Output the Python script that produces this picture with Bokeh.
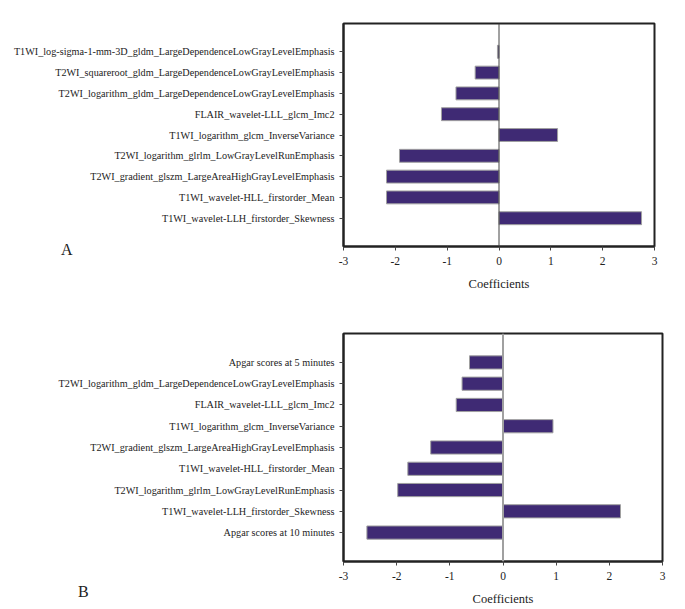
from bokeh.plotting import figure
from bokeh.models import Range1d, FactorRange, FixedTicker, Span, Div
from bokeh.layouts import column
from bokeh.embed import file_html
from bokeh.resources import INLINE

# Panel A: features listed top to bottom with their coefficients
features_a = [
    "T1WI_log-sigma-1-mm-3D_gldm_LargeDependenceLowGrayLevelEmphasis",
    "T2WI_squareroot_gldm_LargeDependenceLowGrayLevelEmphasis",
    "T2WI_logarithm_gldm_LargeDependenceLowGrayLevelEmphasis",
    "FLAIR_wavelet-LLL_glcm_Imc2",
    "T1WI_logarithm_glcm_InverseVariance",
    "T2WI_logarithm_glrlm_LowGrayLevelRunEmphasis",
    "T2WI_gradient_glszm_LargeAreaHighGrayLevelEmphasis",
    "T1WI_wavelet-HLL_firstorder_Mean",
    "T1WI_wavelet-LLH_firstorder_Skewness",
]
coef_a = [-0.03, -0.46, -0.83, -1.11, 1.13, -1.92, -2.17, -2.17, 2.75]

# Panel B: features listed top to bottom with their coefficients
features_b = [
    "Apgar scores at 5 minutes",
    "T2WI_logarithm_gldm_LargeDependenceLowGrayLevelEmphasis",
    "FLAIR_wavelet-LLL_glcm_Imc2",
    "T1WI_logarithm_glcm_InverseVariance",
    "T2WI_gradient_glszm_LargeAreaHighGrayLevelEmphasis",
    "T1WI_wavelet-HLL_firstorder_Mean",
    "T2WI_logarithm_glrlm_LowGrayLevelRunEmphasis",
    "T1WI_wavelet-LLH_firstorder_Skewness",
    "Apgar scores at 10 minutes",
]
coef_b = [-0.63, -0.77, -0.88, 0.94, -1.36, -1.79, -1.98, 2.21, -2.56]

x_ticks = [-3, -2, -1, 0, 1, 2, 3]
x_label = "Coefficients"

FONT = "Liberation Serif"
BAR_FILL = "#3f2a74"
BAR_EDGE = "#a0a0a0"


def coef_panel(features, coefs, frame_w, frame_h,
               left, right, top, bottom, zero_color, zero_width):
    y_range = FactorRange(factors=list(reversed(features)),
                          range_padding=0.86, range_padding_units="absolute")
    p = figure(y_range=y_range, x_range=Range1d(x_ticks[0], x_ticks[-1]),
               frame_width=frame_w, frame_height=frame_h,
               min_border_left=left, min_border_right=right,
               min_border_top=top, min_border_bottom=bottom,
               output_backend="svg", toolbar_location=None)
    p.background_fill_color = "white"
    p.border_fill_color = "white"
    p.outline_line_color = "#222222"
    p.outline_line_width = 2
    p.xgrid.visible = False
    p.ygrid.visible = False

    p.hbar(y=features, left=0, right=coefs, height=0.62,
           fill_color=BAR_FILL, line_color=BAR_EDGE, line_width=1)
    p.add_layout(Span(location=0, dimension="height",
                      line_color=zero_color, line_width=zero_width))

    xa = p.xaxis[0]
    xa.ticker = FixedTicker(ticks=x_ticks)
    # plain hyphen-minus in the tick labels
    xa.major_label_overrides = {t: str(t) for t in x_ticks}
    xa.axis_label = x_label
    xa.axis_label_text_font = FONT
    xa.axis_label_text_font_size = "12.5px"
    xa.axis_label_text_font_style = "normal"
    xa.axis_label_text_color = "#222222"
    xa.axis_label_standoff = 9
    xa.major_label_text_font = FONT
    xa.major_label_text_font_size = "11.5px"
    xa.major_label_text_color = "#222222"
    xa.major_label_standoff = 6
    xa.major_tick_in = 0
    xa.major_tick_out = 4
    xa.minor_tick_out = 0
    xa.minor_tick_in = 0
    xa.axis_line_width = 2
    xa.axis_line_color = "#222222"
    xa.major_tick_line_color = "#444444"

    ya = p.yaxis[0]
    ya.major_label_text_font = FONT
    ya.major_label_text_font_size = "10.2px"
    ya.major_label_text_color = "#222222"
    ya.major_label_standoff = 5
    ya.major_tick_in = 0
    ya.major_tick_out = 4
    ya.axis_line_width = 2
    ya.axis_line_color = "#222222"
    ya.major_tick_line_color = "#444444"
    return p


def panel_letter(text, margin):
    # small text block pulled up over the panel above it (net height zero)
    return Div(text=text, width=20, height=20, margin=margin,
               styles={"font-family": FONT, "font-size": "16px",
                       "color": "#222222", "line-height": "20px"})


top = coef_panel(features_a, coef_a, 311, 223, 343, 31, 23, 54, "#444444", 1)
bot = coef_panel(features_b, coef_b, 319, 228, 337, 29, 33, 48, "#a0a0a0", 2)

letter_a = panel_letter("A", (-60, 0, 40, 61))
letter_b = panel_letter("B", (-27, 0, 7, 78))

layout = column(top, letter_a, bot, letter_b, spacing=0)
open("out.html", "w").write(file_html(layout, INLINE))
